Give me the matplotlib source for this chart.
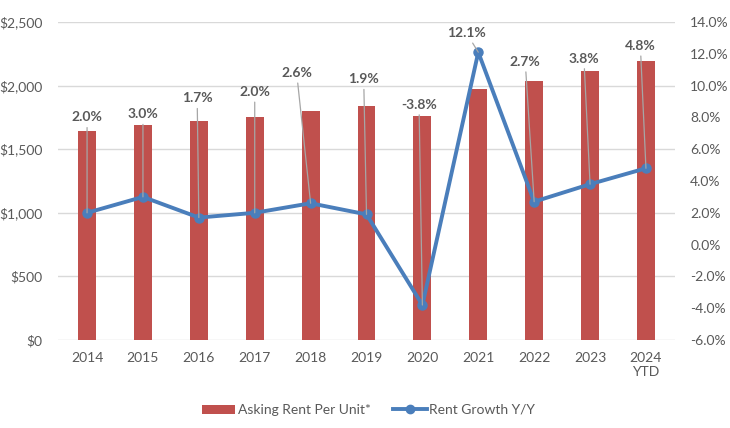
import matplotlib
matplotlib.use("Agg")
import matplotlib.pyplot as plt
from matplotlib.patches import Patch
from matplotlib.lines import Line2D
from matplotlib.ticker import FuncFormatter, MultipleLocator
import numpy as np

# ---- data ----
years = ["2014", "2015", "2016", "2017", "2018", "2019", "2020", "2021", "2022", "2023", "2024\nYTD"]
asking_rent = [1643, 1690, 1722, 1753, 1800, 1840, 1761, 1973, 2036, 2115, 2193]
rent_growth = [2.0, 3.0, 1.7, 2.0, 2.6, 1.9, -3.8, 12.1, 2.7, 3.8, 4.8]
growth_labels = ["2.0%", "3.0%", "1.7%", "2.0%", "2.6%", "1.9%", "-3.8%", "12.1%", "2.7%", "3.8%", "4.8%"]

# label placement (style): label centre in growth-axis units and x shift in category units
label_y = [8.0, 8.2, 9.2, 9.6, 10.8, 10.4, 8.8, 13.3, 11.5, 11.7, 12.5]
label_dx = [0.0, 0.0, -0.03, 0.0, -0.25, -0.05, -0.06, -0.21, -0.16, -0.11, -0.1]

BAR = "#C0504D"
LINE = "#4A7EBB"
TXT = "#595959"
GRID = "#D9D9D9"

plt.rcParams['font.family'] = ['Lato', 'DejaVu Sans']

fig = plt.figure(figsize=(7.3, 4.28), dpi=100, facecolor="white")
ax = fig.add_axes([58/730, 1-340/428, (675-58)/730, (340-22)/428])
x = np.arange(len(years))

ax.bar(x, asking_rent, width=0.32, color=BAR, zorder=2)
ax.set_ylim(0, 2500)
ax.yaxis.set_major_locator(MultipleLocator(500))
ax.yaxis.set_major_formatter(FuncFormatter(lambda v, p: f"${v:,.0f}"))
ax.set_xlim(-0.52, len(years) - 0.48)
ax.set_xticks(x)
ax.set_xticklabels(years)
ax.grid(axis="y", color=GRID, lw=1, zorder=0)
ax.set_axisbelow(True)
for s in ax.spines.values():
    s.set_visible(False)
ax.tick_params(axis="both", length=0, colors=TXT, labelsize=10)
ax.tick_params(axis="y", pad=11)
ax.tick_params(axis="x", pad=9)

ax2 = ax.twinx()
ax2.set_ylim(-6, 14)
ax2.yaxis.set_major_locator(MultipleLocator(2))
ax2.yaxis.set_major_formatter(FuncFormatter(lambda v, p: f"{v:.1f}%"))
for s in ax2.spines.values():
    s.set_visible(False)
ax2.tick_params(axis="y", length=0, colors=TXT, labelsize=10, pad=11)

ax2.plot(x, rent_growth, color=LINE, lw=2.8, marker="o", ms=6.5, zorder=4)

for i, (g, lab) in enumerate(zip(rent_growth, growth_labels)):
    ax2.annotate(lab, xy=(i, g), xytext=(i + label_dx[i], label_y[i]),
                 textcoords="data", ha="center", va="center",
                 fontsize=10, fontweight="bold", color=TXT,
                 arrowprops=dict(arrowstyle="-", color="#A6A6A6", lw=0.9,
                                 shrinkA=1, shrinkB=0), zorder=5)

handles = [Patch(facecolor=BAR, edgecolor="none"),
           Line2D([0], [0], color=LINE, lw=2.8, marker="o", ms=6)]
fig.legend(handles, ["Asking Rent Per Unit*", "Rent Growth Y/Y"],
           loc="center", bbox_to_anchor=(0.505, 1-410/428), ncol=2, frameon=False,
           fontsize=10, labelcolor=TXT, handlelength=2.4, handletextpad=0.2,
           columnspacing=1.6, handleheight=0.6)

fig.savefig("out.png", dpi=100, facecolor="white")
